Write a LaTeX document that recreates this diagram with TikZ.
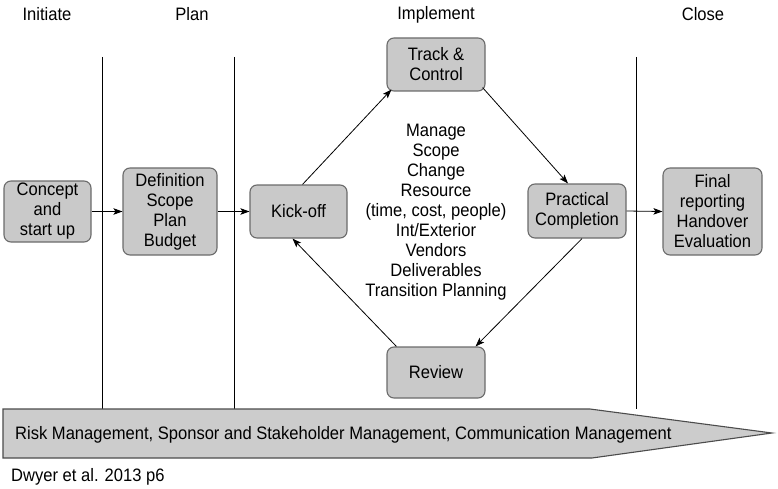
\documentclass[tikz,border=0pt]{standalone}
\usepackage{fontspec}
\setmainfont{Liberation Sans}[FakeStretch=0.92]
\usetikzlibrary{arrows.meta,calc}
\begin{document}
\begin{tikzpicture}[x=1pt,y=-1pt,
  every node/.style={font=\fontsize{18}{20}\selectfont},
  box/.style={draw=black!58,line width=1.1pt,fill=black!21,rounded corners=7pt,align=center,inner sep=0pt},
  conn/.style={line width=0.8pt,-{Stealth[length=9pt,width=6.5pt,inset=2pt]}},
  vline/.style={line width=0.9pt},
  head/.style={anchor=center}]
\useasboundingbox (0,0) rectangle (778,489);
% phase headings
\node[head] (hInit) at (47,14.5) {Initiate};
\node[head] (hPlan) at (192,14.5) {Plan};
\node[head] (hImpl) at (436,14.5) {Implement};
\node[head] (hClose) at (703,14.5) {Close};
% vertical separators
\coordinate (v1t) at (102.5,57); \coordinate (v1b) at (102.5,409);
\coordinate (v2t) at (234.5,57); \coordinate (v2b) at (234.5,409);
\coordinate (v3t) at (636,57);   \coordinate (v3b) at (636,409);
\draw[vline] (v1t) -- (v1b);
\draw[vline] (v2t) -- (v2b);
\draw[vline] (v3t) -- (v3b);
% boxes
\node[box,minimum width=87pt,minimum height=61pt] (concept) at (47.5,211.5) {Concept\\and\\start up};
\node[box,minimum width=94pt,minimum height=87pt] (definition) at (170,211.5) {Definition\\Scope\\Plan\\Budget};
\node[box,minimum width=97pt,minimum height=53pt] (kickoff) at (298.5,211.5) {Kick-off};
\node[box,minimum width=98pt,minimum height=53pt] (track) at (436,64.5) {Track \&\\Control};
\node[box,minimum width=98pt,minimum height=54pt] (practical) at (577,211) {Practical\\Completion};
\node[box,minimum width=99pt,minimum height=87pt] (final) at (712.5,211.5) {Final\\reporting\\Handover\\Evaluation};
\node[box,minimum width=98pt,minimum height=51pt] (review) at (436,372.5) {Review};
% centre text
\node[align=center,inner sep=0pt] (manage) at (436,212.5) {Manage\\Scope\\Change\\Resource\\(time, cost, people)\\Int/Exterior\\Vendors\\Deliverables\\Transition Planning};
% connectors
\draw[conn] (concept.east) -- (definition.west);
\draw[conn] (definition.east) -- (kickoff.west);
\draw[conn] ([xshift=4pt]kickoff.north) -- ([xshift=5pt,yshift=2pt]track.south west);
\draw[conn] ([xshift=-3pt,yshift=4pt]track.south east) -- ([xshift=-9pt]practical.north);
\draw[conn] ([xshift=5pt]practical.south) -- ([xshift=-10pt]review.north east);
\draw[conn] ([xshift=10pt]review.north west) -- ([xshift=-6pt]kickoff.south);
\draw[conn] (practical.east) -- (final.west);
% banner arrow
\coordinate (b1) at (3,409);
\coordinate (b2) at (590,409);
\coordinate (b3) at (772,433);
\coordinate (b4) at (592,458);
\coordinate (b5) at (3,458);
\draw[draw=black!70,line width=1.1pt,fill=black!20] (b1) -- (b2) -- (b3) -- (b4) -- (b5) -- cycle;
\node[anchor=west,inner sep=0pt] (banner) at (15,434.5) {Risk Management, Sponsor and Stakeholder Management, Communication Management};
\node[anchor=west,inner sep=0pt] (source) at (11,477) {Dwyer et al. 2013 p6};
\end{tikzpicture}
\end{document}
